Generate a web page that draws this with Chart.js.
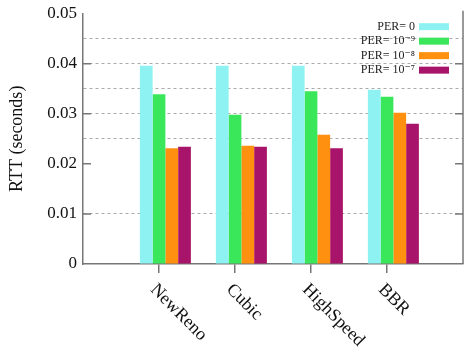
<!DOCTYPE html>
<html>
<head>
<meta charset="utf-8">
<script src="https://cdn.jsdelivr.net/npm/chart.js@4.4.0/dist/chart.umd.min.js"></script>
<style>
  html, body { margin: 0; padding: 0; background: #fff; }
  #wrap { width: 474px; height: 353px; }
</style>
</head>
<body>
<div id="wrap"><canvas id="c" width="474" height="353"></canvas></div>
<script>
// categorias del eje x (las vacias dejan margen como en gnuplot)
const categorias = ["", "NewReno", "Cubic", "HighSpeed", "BBR", ""];
const series = ["PER= 0", "PER= 10⁻⁹", "PER= 10⁻⁸", "PER= 10⁻⁷"];
const per0 = [null, 0.0396, 0.0396, 0.0396, 0.0348, null];
const per9 = [null, 0.0339, 0.0298, 0.0345, 0.0334, null];
const per8 = [null, 0.0231, 0.0236, 0.0258, 0.0302, null];
const per7 = [null, 0.0234, 0.0234, 0.0231, 0.0280, null];
const yTicks = [0, 0.01, 0.02, 0.03, 0.04, 0.05];
const gridVals = [0.01, 0.025, 0.03, 0.035, 0.04, 0.045];

const colores = ["#8ff2f2", "#3ae65a", "#ff9010", "#a8146a"];
const serif = "'Liberation Serif', 'DejaVu Serif', serif";

// leyenda dentro del area, texto a la izquierda y caja a la derecha
const leyenda = {
  id: "leyenda",
  afterDatasetsDraw(chart) {
    const ctx = chart.ctx, a = chart.chartArea;
    ctx.save();
    ctx.font = "12px " + serif;
    ctx.textAlign = "right";
    ctx.textBaseline = "middle";
    series.forEach((s, i) => {
      const y = a.top + 13 + i * 14.5;
      ctx.fillStyle = "#222";
      ctx.fillText(s, a.right - 48, y);
      ctx.fillStyle = colores[i];
      ctx.fillRect(a.right - 44, y - 3.5, 30, 7);
    });
    ctx.restore();
  }
};

// marco derecho, ticks interiores y etiquetas x giradas hacia abajo a la derecha
const extras = {
  id: "extras",
  afterDraw(chart) {
    const ctx = chart.ctx, a = chart.chartArea, x = chart.scales.x;
    ctx.save();
    ctx.strokeStyle = "#777";
    ctx.lineWidth = 1.5;
    ctx.beginPath();
    ctx.moveTo(a.right, a.top - 3);
    ctx.lineTo(a.right, a.bottom);
    ctx.stroke();
    [0.01, 0.02, 0.03, 0.04].forEach(v => {
      const py = chart.scales.y.getPixelForValue(v);
      ctx.beginPath();
      ctx.moveTo(a.right, py);
      ctx.lineTo(a.right - 8, py);
      ctx.moveTo(a.left, py);
      ctx.lineTo(a.left + 8, py);
      ctx.stroke();
    });
    ctx.font = "18px " + serif;
    ctx.fillStyle = "#111";
    ctx.textAlign = "left";
    ctx.textBaseline = "middle";
    categorias.forEach((c, i) => {
      if (!c) return;
      const px = x.getPixelForValue(i);
      ctx.save();
      ctx.translate(px - 6, a.bottom + 23);
      ctx.rotate(Math.PI / 4);
      ctx.fillText(c, 0, 0);
      ctx.restore();
    });
    ctx.restore();
  }
};

const datos = [per0, per9, per8, per7];
const datasets = [{ label: "_hueco", data: categorias.map(() => null) }].concat(
  datos.map((d, i) => ({
    label: series[i],
    data: d,
    backgroundColor: colores[i],
    borderWidth: 0
  }))
);

new Chart(document.getElementById("c").getContext("2d"), {
  type: "bar",
  data: { labels: categorias, datasets },
  options: {
    responsive: false,
    animation: false,
    layout: { padding: { top: 13, right: 11, left: 0, bottom: 0 } },
    datasets: { bar: { barPercentage: 1, categoryPercentage: 0.839 } },
    plugins: { legend: { display: false }, tooltip: { enabled: false } },
    scales: {
      x: {
        offset: false,
        ticks: { display: false },
        grid: { offset: false, drawOnChartArea: false, drawTicks: true, tickLength: 9, color: c => categorias[c.index] ? "#777" : "rgba(0,0,0,0)", lineWidth: 1.5 },
        border: { color: "#777", width: 1.5 },
        afterFit(s) { s.height = 89; }
      },
      y: {
        min: 0, max: 0.05,
        afterBuildTicks(s) { s.ticks = [0, 0.005, 0.01, 0.015, 0.02, 0.025, 0.03, 0.035, 0.04, 0.045, 0.05].map(v => ({ value: v })); },
        ticks: {
          font: { family: serif, size: 17, lineHeight: 0.9 },
          color: "#111",
          padding: 6,
          callback: v => yTicks.some(t => Math.abs(t - v) < 1e-9) ? String(+v.toFixed(2)) : ""
        },
        grid: {
          drawTicks: false,
          color: c => gridVals.some(t => Math.abs(t - c.tick.value) < 1e-9) ? "#aaa" : "rgba(0,0,0,0)",
          lineWidth: 1
        },
        border: { color: "#777", width: 1.5, dash: [3, 3] },
        title: { display: true, text: "RTT (seconds)", font: { family: serif, size: 18 }, color: "#111", padding: { top: 6, bottom: 0 } },
        afterFit(s) { s.width = 83; }
      }
    }
  },
  plugins: [leyenda, extras]
});
</script>
</body>
</html>
